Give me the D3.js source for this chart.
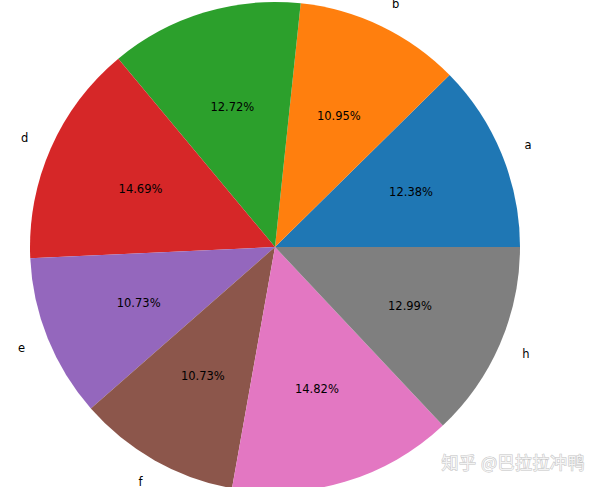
<!DOCTYPE html>
<html>
<head>
<meta charset="utf-8">
<script src="https://cdn.jsdelivr.net/npm/d3@7"></script>
<style>
  body { margin: 0; background: #fff; }
  svg { display: block; }
</style>
</head>
<body>
<svg width="600" height="487"></svg>
<script>
const labels = ['a', 'b', 'c', 'd', 'e', 'f', 'g', 'h'];
const shares = [12.38, 10.95, 12.72, 14.69, 10.73, 10.73, 14.82, 12.99];
const colours = ['#1f77b4', '#ff7f0e', '#2ca02c', '#d62728', '#9467bd', '#8c564b', '#e377c2', '#7f7f7f'];

const svg = d3.select('svg');
const cx = 275, cy = 247, r = 245;

const slices = labels.map((l, i) => ({ label: l, value: shares[i], colour: colours[i] }));

// matplotlib style: start at 3 o'clock, go counter-clockwise
const pie = d3.pie()
  .value(d => d.value)
  .sort(null)
  .startAngle(Math.PI / 2)
  .endAngle(Math.PI / 2 - 2 * Math.PI);

const arc = d3.arc().innerRadius(0).outerRadius(r);
const arcs = pie(slices);

const g = svg.append('g').attr('transform', `translate(${cx},${cy})`);

g.selectAll('path')
  .data(arcs)
  .enter()
  .append('path')
    .attr('d', arc)
    .style('fill', d => d.data.colour);

const mid = d => (d.startAngle + d.endAngle) / 2;
const at = (d, k) => [Math.sin(mid(d)) * r * k, -Math.cos(mid(d)) * r * k];

g.selectAll('text.pct')
  .data(arcs)
  .enter()
  .append('text')
    .classed('pct', true)
    .attr('x', d => at(d, 0.6)[0])
    .attr('y', d => at(d, 0.6)[1] + 1)
    .attr('dy', '0.35em')
    .attr('text-anchor', 'middle')
    .style('font-family', 'DejaVu Sans')
    .style('font-size', '11.5px')
    .text(d => d.data.value.toFixed(2) + '%');

g.selectAll('text.lbl')
  .data(arcs)
  .enter()
  .append('text')
    .classed('lbl', true)
    .attr('x', d => at(d, 1.1)[0])
    .attr('y', d => at(d, 1.1)[1])
    .attr('dy', '0.35em')
    .attr('text-anchor', d => Math.sin(mid(d)) >= 0 ? 'start' : 'end')
    .style('font-family', 'DejaVu Sans')
    .style('font-size', '11.5px')
    .text(d => d.data.label);

// watermark
svg.append('text')
  .attr('x', 585)
  .attr('y', 469)
  .attr('text-anchor', 'end')
  .style('font-family', 'Noto Sans CJK SC')
  .style('font-size', '17px')
  .style('letter-spacing', '0.5px')
  .style('fill', '#f4f4f4')
  .style('stroke', '#c4c4c4')
  .style('stroke-width', 1)
  .style('paint-order', 'stroke')
  .text('知乎 @巴拉拉冲鸭');
</script>
</body>
</html>
